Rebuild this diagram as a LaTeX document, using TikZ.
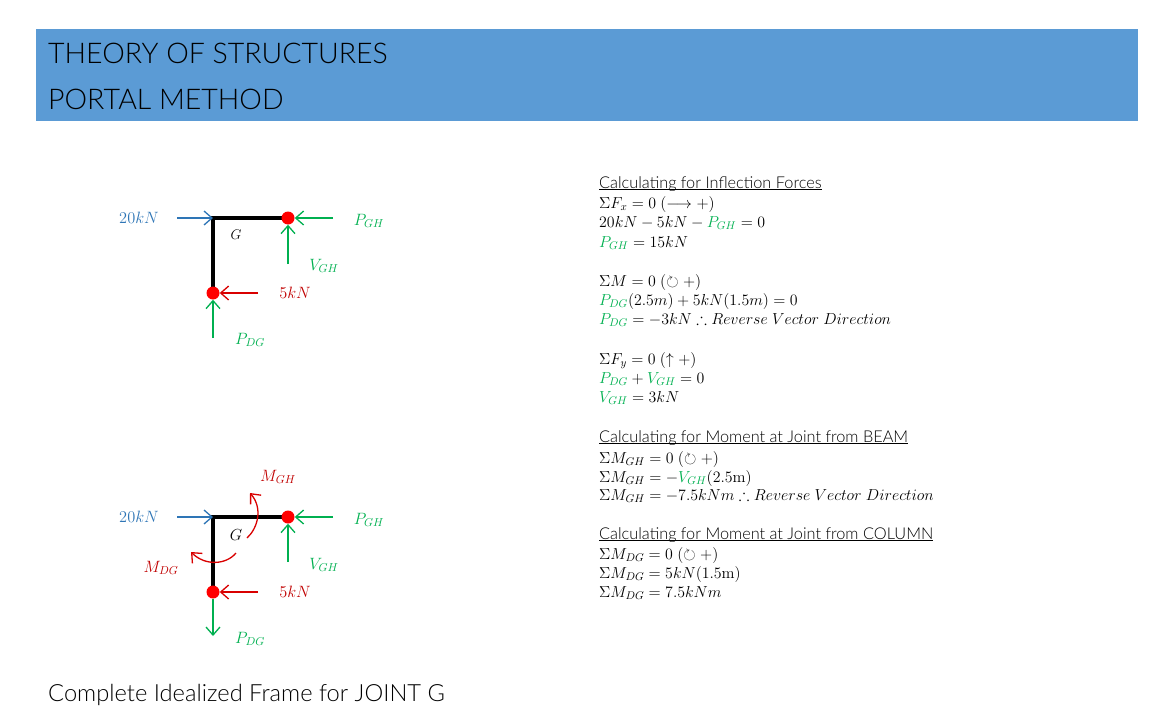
\RequirePackage{fix-cm}
\documentclass[tikz,border=0pt]{standalone}
\usepackage{amsmath,amssymb}
\usepackage[no-math]{fontspec}
\setmainfont{Lato Light}
\usetikzlibrary{arrows.meta}
\definecolor{bannerblue}{HTML}{5B9BD5}
\definecolor{forceblue}{HTML}{2E75B6}
\definecolor{forcegreen}{HTML}{00B050}
\definecolor{labelred}{HTML}{C00000}
\tikzset{
  x=1pt,y=-1pt,
  force/.style={line width=1.3pt,-{Straight Barb[length=8pt,width=14pt,line width=1.3pt]}},
  member/.style={line width=4.5pt,line join=miter},
  hinge/.style={circle,fill=red,inner sep=0pt,minimum size=13pt},
  flabel/.style={font=\fontsize{16.4}{20}\selectfont},
  title/.style={anchor=base west,inner sep=0pt,font=\fontsize{28.5}{34}\selectfont,text=black},
  heading/.style={anchor=base west,inner sep=0pt,font=\fontsize{16.3}{20}\selectfont,text=black},
  mline/.style={anchor=base west,inner sep=0pt,font=\fontsize{15.9}{18}\selectfont},
}
\newcommand{\gr}[1]{\textcolor{forcegreen}{#1}}
\newcommand{\ulined}[1]{\setbox0=\hbox{#1}\rlap{\rule[-2pt]{\wd0}{0.7pt}}\box0}
\begin{document}
\begin{tikzpicture}
\useasboundingbox (0,0) rectangle (1165,720);
\fill[bannerblue] (36,29) rectangle (1138,121);
\node[title] (titleA) at (48,63) {THEORY OF STRUCTURES};
\node[title] (titleB) at (48,109) {PORTAL METHOD};
\node[title,font=\fontsize{23.7}{28}\selectfont] (caption) at (48,701) {Complete Idealized Frame for JOINT G};

% upper frame
\coordinate (G1) at (213,218);
\coordinate (H1c) at (288,218);
\coordinate (D1c) at (213,293);
\draw[member] (H1c) -- (G1) -- (D1c);
\node[hinge] (H1) at (H1c) {};
\node[hinge] (D1) at (D1c) {};
\coordinate (a1) at (177,218);
\coordinate (b1) at (333,218);
\coordinate (c1) at (288,264);
\coordinate (d1) at (258,293);
\coordinate (e1) at (213,338);
\draw[force,forceblue] (a1) -- (G1);
\draw[force,forcegreen] (b1) -- (H1);
\draw[force,forcegreen] (c1) -- (H1);
\draw[force,red!85!black] (d1) -- (D1);
\draw[force,forcegreen] (e1) -- (D1);
\node[flabel,text=forceblue] (f1) at (139,218) {$20kN$};
\node[flabel,text=forcegreen] (p1) at (369,221) {$P_{GH}$};
\node[flabel,font=\fontsize{14}{16}\selectfont] (g1) at (236,235) {$G$};
\node[flabel,text=forcegreen] (v1) at (324,266) {$V_{GH}$};
\node[flabel,text=labelred] (k1) at (295,293) {$5kN$};
\node[flabel,text=forcegreen] (q1) at (250,340) {$P_{DG}$};

% lower frame
\coordinate (G2) at (213,517);
\coordinate (H2c) at (288,517);
\coordinate (D2c) at (213,592);
\draw[member] (H2c) -- (G2) -- (D2c);
\node[hinge] (H2) at (H2c) {};
\node[hinge] (D2) at (D2c) {};
\coordinate (a2) at (177,517);
\coordinate (b2) at (333,517);
\coordinate (c2) at (288,562);
\coordinate (d2) at (258,592);
\coordinate (e2) at (213,636);
\coordinate (m1) at (247,538);
\coordinate (m2) at (250,493);
\coordinate (m3) at (236,553);
\coordinate (m4) at (191,552);
\draw[force,forceblue] (a2) -- (G2);
\draw[force,forcegreen] (b2) -- (H2);
\draw[force,forcegreen] (c2) -- (H2);
\draw[force,red!85!black] (d2) -- (D2);
\draw[force,forcegreen] (D2) -- (e2);
\draw[force,red!85!black] (m1) .. controls (258,528) and (263,508) .. (m2);
\draw[force,red!85!black] (m3) .. controls (226,565) and (205,566) .. (m4);
\node[flabel,text=forceblue] (f2) at (139,517) {$20kN$};
\node[flabel,text=forcegreen] (p2) at (369,520) {$P_{GH}$};
\node[flabel,font=\fontsize{16}{18}\selectfont] (g2) at (236,535) {$G$};
\node[flabel,text=forcegreen] (v2) at (324,565) {$V_{GH}$};
\node[flabel,text=labelred] (k2) at (295,592) {$5kN$};
\node[flabel,text=forcegreen] (q2) at (250,639) {$P_{DG}$};
\node[flabel,text=labelred] (r1) at (278,477) {$M_{GH}$};
\node[flabel,text=labelred] (r2) at (161,568) {$M_{DG}$};

% calculations
\node[heading] (h1) at (599,188) {\ulined{Calculating for Inflection Forces}};
\node[mline] (l1) at (599,208) {$\Sigma F_x = 0\ (\longrightarrow +)$};
\node[mline] (l2) at (599,227) {$20kN - 5kN - \gr{P_{GH}} = 0$};
\node[mline] (l3) at (599,247) {$\gr{P_{GH}} = 15kN$};
\node[mline] (l4) at (599,286) {$\Sigma M = 0\ (\circlearrowright +)$};
\node[mline] (l5) at (599,305) {$\gr{P_{DG}}(2.5m) + 5kN(1.5m) = 0$};
\node[mline] (l6) at (599,324) {$\gr{P_{DG}} = -3kN \therefore Reverse\ Vector\ Direction$};
\node[mline] (l7) at (599,364) {$\Sigma F_y = 0\ (\uparrow +)$};
\node[mline] (l8) at (599,383) {$\gr{P_{DG}} + \gr{V_{GH}} = 0$};
\node[mline] (l9) at (599,402) {$\gr{V_{GH}} = 3kN$};
\node[heading] (h2) at (599,442) {\ulined{Calculating for Moment at Joint from BEAM}};
\node[mline] (l10) at (599,463) {$\Sigma M_{GH} = 0\ (\circlearrowright +)$};
\node[mline] (l11) at (599,482) {$\Sigma M_{GH} = -\gr{V_{GH}}(2.5\mathrm{m})$};
\node[mline] (l12) at (599,500) {$\Sigma M_{GH} = -7.5kNm \therefore Reverse\ Vector\ Direction$};
\node[heading] (h3) at (599,539) {\ulined{Calculating for Moment at Joint from COLUMN}};
\node[mline] (l13) at (599,559) {$\Sigma M_{DG} = 0\ (\circlearrowright +)$};
\node[mline] (l14) at (599,578) {$\Sigma M_{DG} = 5kN(1.5\mathrm{m})$};
\node[mline] (l15) at (599,597) {$\Sigma M_{DG} = 7.5kNm$};
\end{tikzpicture}
\end{document}
